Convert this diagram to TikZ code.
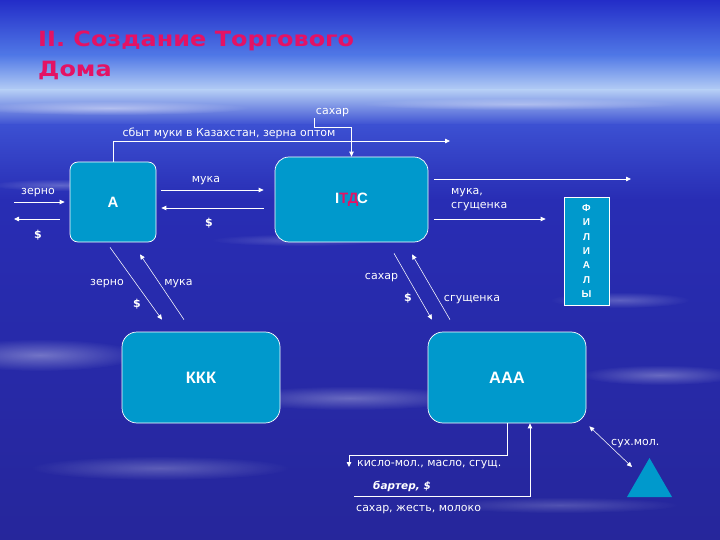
\documentclass[tikz,border=0pt]{standalone}
\usepackage{fontspec}
\setmainfont{DejaVu Sans}
\newfontfamily\lsans{Liberation Sans}
\usetikzlibrary{arrows.meta,shapes.geometric,fadings}
\definecolor{boxblue}{RGB}{0,153,204}
\definecolor{titlepink}{RGB}{228,18,100}
\definecolor{bgA}{RGB}{35,45,200}
\definecolor{bgB}{RGB}{80,120,230}
\definecolor{bgC}{RGB}{180,205,245}
\definecolor{bgD}{RGB}{60,80,210}
\definecolor{bgE}{RGB}{40,45,180}
\definecolor{bgF}{RGB}{38,38,155}
\tikzfading[name=softcloud, inner color=transparent!0, outer color=transparent!100]
\begin{document}
\begin{tikzpicture}[x=1pt,y=-1pt,
  box/.style={draw=white, line width=0.7pt, fill=boxblue, rounded corners=#1, inner sep=0pt,
    text=white, font=\lsans\bfseries\fontsize{15}{15}\selectfont},
  arr/.style={draw=white, line width=0.8pt, -{Triangle[length=5pt,width=4.5pt]}},
  thinarr/.style={draw=white, line width=0.55pt, -{Triangle[length=5pt,width=4.5pt]}},
  lbl/.style={text=white, inner sep=0pt, text height=6pt, text depth=0pt,
    font=\fontsize{11}{13}\selectfont},
  ttl/.style={anchor=base west, inner sep=0pt, text=titlepink, font=\bfseries\fontsize{21}{24}\selectfont},
  cloud/.style={fill=white, path fading=softcloud, opacity=#1}]
\useasboundingbox (0,0) rectangle (720,540);
% background
\shade[top color=bgA, bottom color=bgB] (0,0) rectangle (720,55);
\shade[top color=bgB, bottom color=bgC] (0,55) rectangle (720,90);
\shade[top color=bgC, bottom color=bgD] (0,90) rectangle (720,125);
\shade[top color=bgD, bottom color=bgE] (0,125) rectangle (720,200);
\shade[top color=bgE, bottom color=bgF] (0,200) rectangle (720,540);
\fill[cloud=0.45] (110,108) ellipse (140 and 7);
\fill[cloud=0.35] (520,104) ellipse (160 and 6);
\fill[cloud=0.25] (60,185) ellipse (70 and 6);
\fill[cloud=0.35] (40,355) ellipse (100 and 16);
\fill[cloud=0.3] (350,398) ellipse (120 and 12);
\fill[cloud=0.3] (660,375) ellipse (80 and 10);
\fill[cloud=0.25] (620,300) ellipse (70 and 8);
\fill[cloud=0.25] (160,468) ellipse (130 and 12);
\fill[cloud=0.2] (560,505) ellipse (120 and 8);
\fill[cloud=0.2] (300,240) ellipse (90 and 6);
% title
\node[ttl] (t1) at (38,47) {\scalebox{1.14}[1]{II. Создание Торгового}};
\node[ttl] (t2) at (38,77) {\scalebox{1.14}[1]{Дома}};
% boxes
\node[box=8pt, minimum width=86pt, minimum height=80pt] (A) at (113,202) {А};
\node[box=14pt, minimum width=153pt, minimum height=85pt] (T) at (351.5,199.5)
  {\textcolor{white}{I}\textcolor{titlepink}{ТД}\kern-1.5pt\textcolor{white}{С}};
\node[box=15pt, minimum width=158pt, minimum height=91pt, font=\lsans\bfseries\fontsize{16.5}{16}\selectfont] (K) at (201,377.5) {ККК};
\node[box=15pt, minimum width=158pt, minimum height=91pt, font=\lsans\bfseries\fontsize{16.5}{16}\selectfont] (AAA) at (507,377.5) {ААА};
\node[box=0pt, minimum width=45pt, minimum height=108pt, align=center,
  font=\lsans\bfseries\fontsize{10}{14.3}\selectfont] (F) at (586.5,251) {Ф\\И\\Л\\И\\А\\Л\\Ы};
\node[draw=none, fill=boxblue, regular polygon, regular polygon sides=3, minimum size=52pt, inner sep=0pt]
  (tri) at (649.5,484) {};
% coordinates for free ends
\coordinate (sbyt) at (450,141);
\coordinate (s1) at (314,118);
\coordinate (s2) at (314,127);
\coordinate (z1) at (14,202);
\coordinate (z2) at (14,219);
\coordinate (f1) at (631,179);
\coordinate (k1) at (349,467);
\coordinate (b1) at (354,496);
% connectors
\draw[arr] (A.north) |- (sbyt);
\draw[arr] (s1) -- (s2) -| (T.north);
\draw[arr] ([shift={(5,-12)}]A.east) -- ([shift={(-11,-9.5)}]T.west);
\draw[arr] ([shift={(-11,8.5)}]T.west) -- ([shift={(5,6)}]A.east);
\draw[arr] (z1) -- ([xshift=-5pt]A.west);
\draw[arr] ([shift={(-10,17)}]A.west) -- (z2);
\draw[thinarr] ([shift={(-3,5)}]A.south) -- ([shift={(-39,-12)}]K.north);
\draw[thinarr] ([shift={(-17,-12)}]K.north) -- ([shift={(27,12)}]A.south);
\draw[thinarr] ([shift={(42.5,11)}]T.south) -- ([shift={(-75,-12)}]AAA.north);
\draw[thinarr] ([shift={(-57,-12)}]AAA.north) -- ([shift={(60.5,12)}]T.south);
\draw[arr] ([shift={(6,-20.5)}]T.east) -- (f1);
\draw[arr] ([shift={(6,19.5)}]T.east) -- ([shift={(-18,-32)}]F.west);
\draw[arr] (AAA.south) -- ++(0,32) -| (k1);
\draw[arr] (b1) -| ([xshift=23pt]AAA.south);
\draw[thinarr, {Triangle[length=5pt,width=4.5pt]}-{Triangle[length=5pt,width=4.5pt]}]
  ([shift={(3,3)}]AAA.south east) -- ([shift={(-17.5,-17)}]tri.center);
% labels
\node[lbl] (l1) at (332.5,112) {сахар};
\node[lbl] (l2) at (229,134) {сбыт муки в Казахстан, зерна оптом};
\node[lbl] (l3) at (206,180) {мука};
\node[lbl] (l4) at (209,223) {\bfseries\$};
\node[lbl] (l5) at (38,191.5) {зерно};
\node[lbl] (l6) at (38,235) {\bfseries\$};
\node[lbl] (l7) at (107,282) {зерно};
\node[lbl] (l8) at (178.5,282) {мука};
\node[lbl] (l9) at (137,304) {\bfseries\$};
\node[lbl] (l10) at (381.5,276.5) {сахар};
\node[lbl] (l11) at (408,298) {\bfseries\$};
\node[lbl] (l12) at (472,298) {сгущенка};
\node[lbl, anchor=west] (l13) at (451,191.5) {мука,};
\node[lbl, anchor=west] (l14) at (451,205) {сгущенка};
\node[lbl, anchor=west] (l15) at (357,463) {кисло-мол., масло, сгущ.};
\node[lbl, anchor=west, font=\bfseries\itshape\fontsize{10.5}{13}\selectfont] (l16) at (373,486) {бартер, \$};
\node[lbl, anchor=west] (l17) at (356,508) {сахар, жесть, молоко};
\node[lbl, anchor=west] (l18) at (611,442) {сух.мол.};
\end{tikzpicture}
\end{document}
